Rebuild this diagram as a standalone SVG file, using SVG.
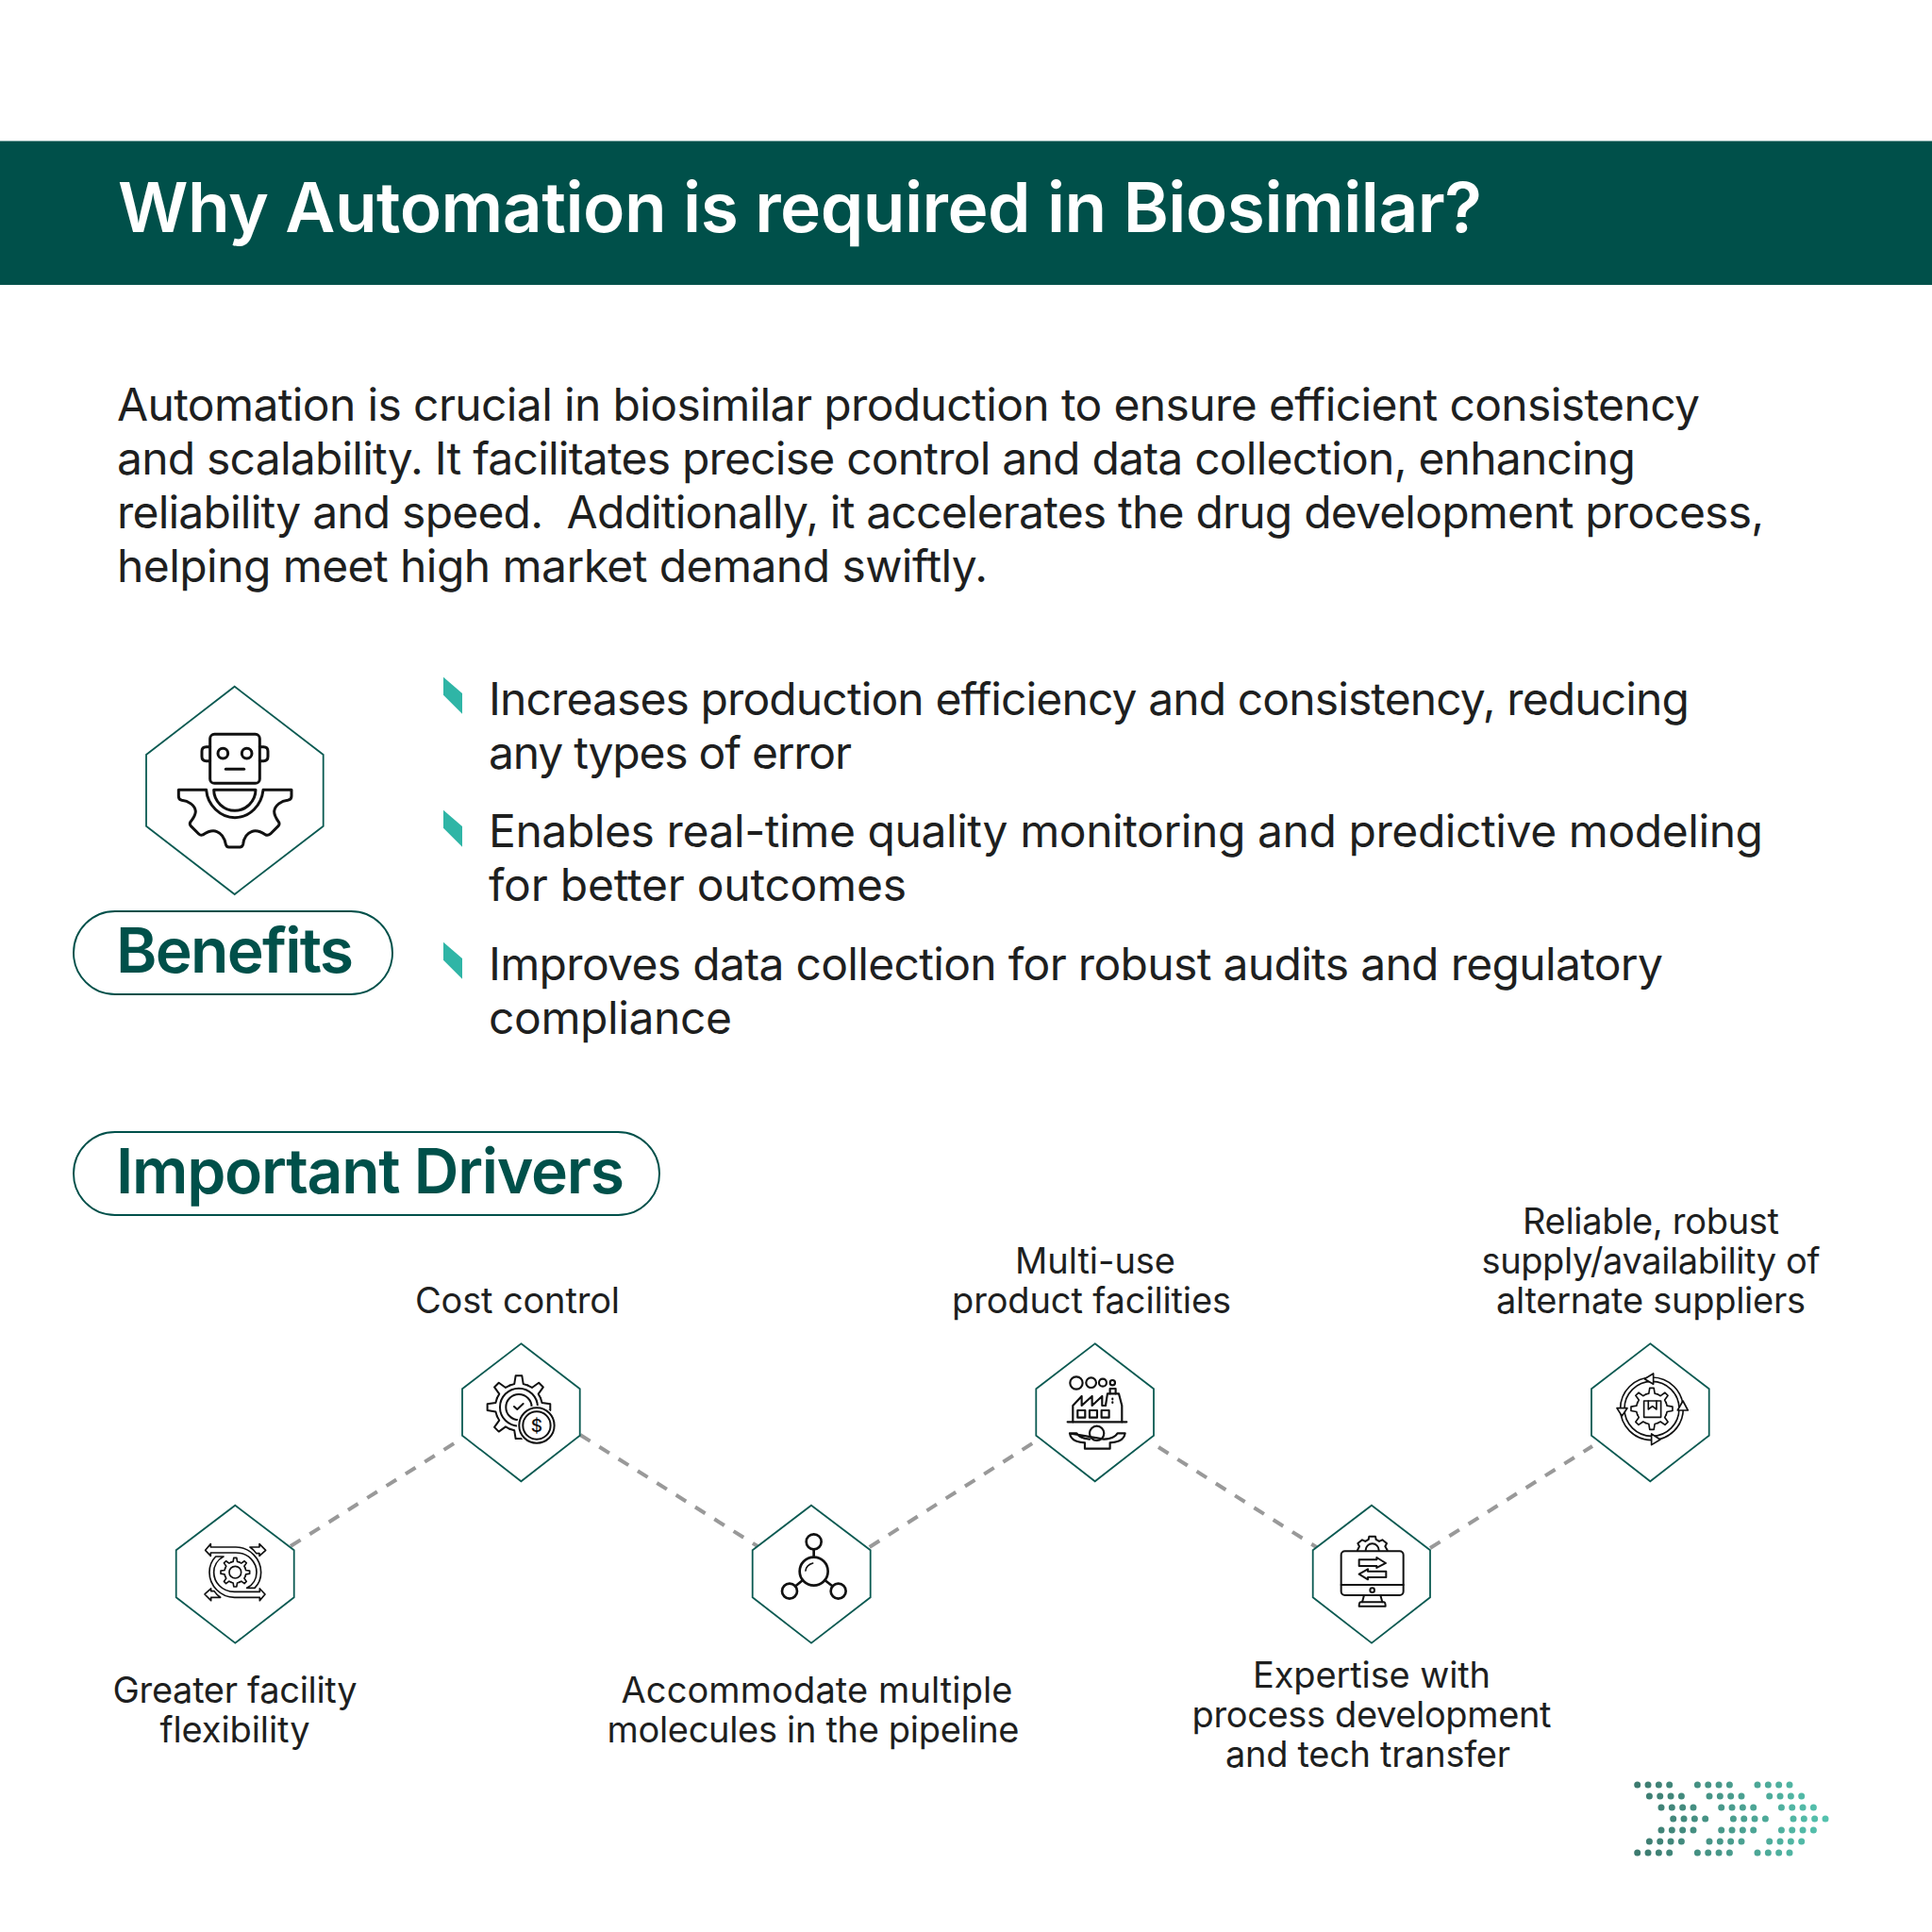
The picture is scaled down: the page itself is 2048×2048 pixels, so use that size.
<svg xmlns="http://www.w3.org/2000/svg" xmlns:xlink="http://www.w3.org/1999/xlink" width="2048" height="2048" viewBox="0 0 2048 2048">
<style>
text{font-family:"Inter","Liberation Sans",sans-serif;fill:#1e1f1f}
.title{font-size:73px;font-weight:600;fill:#fff}
.para{font-size:48px;font-weight:400}
.pill{fill:none;stroke:#00504a;stroke-width:1.9}
.pt{font-size:66px;font-weight:600;fill:#00504a}
.lab{font-size:38px;text-anchor:middle}
.hex{fill:#fff;stroke:#0b5a52;stroke-width:1.8}
.bul{fill:#2fb5a6}
.ic{fill:none;stroke:#111;stroke-linejoin:round;stroke-linecap:round}
.dash{stroke:#999;stroke-width:4;stroke-dasharray:12.5 11.5;fill:none}
</style>
<defs>
<g id="gear">
<path id="t" d="M-28.7-69.3L-14.3-73.6L-10-100H10L14.3-73.6L28.7-69.3"/>
<use xlink:href="#t" href="#t" transform="rotate(45)"/>
<use xlink:href="#t" href="#t" transform="rotate(90)"/>
<use xlink:href="#t" href="#t" transform="rotate(135)"/>
<use xlink:href="#t" href="#t" transform="rotate(180)"/>
<use xlink:href="#t" href="#t" transform="rotate(225)"/>
<use xlink:href="#t" href="#t" transform="rotate(270)"/>
<use xlink:href="#t" href="#t" transform="rotate(315)"/>
</g>
<polygon id="b" class="bul" points="470,717.7 490,735 490,756.7 470,736.7"/>
<linearGradient id="dg" gradientUnits="userSpaceOnUse" x1="1735" y1="0" x2="1940" y2="0">
<stop offset="0" stop-color="#3d7a6f"/><stop offset=".5" stop-color="#4a9d8e"/><stop offset="1" stop-color="#55c4b0"/>
</linearGradient>
</defs>
<rect width="2048" height="2048" fill="#fff"/>

<g id="header">
<rect x="0" y="149.5" width="2048" height="152.5" fill="#00504a"/>
<text class="title" x="125" y="245.5" textLength="1446" lengthAdjust="spacing">Why Automation is required in Biosimilar?</text>
</g>

<g id="intro">
<text class="para" x="124" y="445.5" textLength="1678" lengthAdjust="spacing">Automation is crucial in biosimilar production to ensure efficient consistency</text>
<text class="para" x="124" y="502.5" textLength="1610" lengthAdjust="spacing">and scalability. It facilitates precise control and data collection, enhancing</text>
<text class="para" x="124" y="559.5" textLength="1746" lengthAdjust="spacing" xml:space="preserve">reliability and speed.  Additionally, it accelerates the drug development process,</text>
<text class="para" x="124" y="616.5" textLength="923" lengthAdjust="spacing">helping meet high market demand swiftly.</text>
</g>

<g id="benefits-icon">
<polygon class="hex" points="248.7,727.7 342.7,800 342.7,875.7 248.7,948 155,875.7 155,800"/>
<g class="ic" stroke-width="9" transform="translate(130,700) scale(.3333)">
<rect x="278" y="235" width="158" height="156" rx="14"/>
<path d="M278,275H266Q252,275 252,289V306Q252,320 266,320H278M436,275H448Q462,275 462,289V306Q462,320 448,320H436"/>
<circle cx="319" cy="296" r="16"/><circle cx="395" cy="296" r="16"/>
<path d="M328,346H386"/>
<path d="M178,412H266C270,460 310,500 357,500C405,500 442,460 447,412H537V432Q537,443 525,445C505,447 485,460 482,480C482,495 490,505 497,515Q500,522 495,527L470,552Q463,558 455,555C440,545 425,538 410,545C390,552 385,570 383,585Q381,594 372,594H338Q330,594 328,585C325,570 318,552 300,545C285,538 270,545 255,555Q248,558 242,552L217,527Q212,522 215,515C222,505 232,495 232,480C230,460 208,447 188,445Q178,443 178,432Z"/>
<path d="M290,412H423C423,450 390,478 357,478C323,478 290,450 290,412Z"/>
</g>
</g>

<g id="benefits-pill">
<rect class="pill" x="78" y="966" width="338" height="88" rx="44"/>
<text class="pt" x="123" y="1031" textLength="252" lengthAdjust="spacing">Benefits</text>
</g>

<g id="benefits-list">
<use xlink:href="#b" href="#b"/>
<use xlink:href="#b" href="#b" y="141"/>
<use xlink:href="#b" href="#b" y="281"/>
<text class="para" x="518" y="757.5" textLength="1273" lengthAdjust="spacing">Increases production efficiency and consistency, reducing</text>
<text class="para" x="518" y="814.5" textLength="385" lengthAdjust="spacing">any types of error</text>
<text class="para" x="518" y="898" textLength="1351" lengthAdjust="spacing">Enables real-time quality monitoring and predictive modeling</text>
<text class="para" x="518" y="955" textLength="443" lengthAdjust="spacing">for better outcomes</text>
<text class="para" x="518" y="1038.5" textLength="1245" lengthAdjust="spacing">Improves data collection for robust audits and regulatory</text>
<text class="para" x="518" y="1095.5" textLength="258" lengthAdjust="spacing">compliance</text>
</g>

<g id="drivers-pill">
<rect class="pill" x="78" y="1200" width="621" height="88" rx="44"/>
<text class="pt" x="123" y="1264.5" textLength="539" lengthAdjust="spacing">Important Drivers</text>
</g>

<g id="connectors">
<path class="dash" d="M308,1639L483,1529"/>
<path class="dash" d="M615,1521L803,1639"/>
<path class="dash" d="M921.7,1640L1096,1529"/>
<path class="dash" d="M1228,1534L1397,1641"/>
<path class="dash" d="M1516,1641L1688,1533"/>
</g>

<g id="node-flexibility">
<polygon class="hex" points="249.3,1595.7 311.7,1643.3 311.7,1693.3 249.3,1741.7 186.7,1693.3 186.7,1643.3"/>
<g class="ic" stroke-width="5" transform="translate(170,1430) scale(.3333)">
<g id="fx"><path d="M160,630V620L143,640L160,658V648H240C282,648 306,680 306,710C306,730 295,750 275,760H300C312,748 320,730 320,710C320,668 285,630 240,630Z"/>
<path d="M285,630H315V620L335,640L315,658V650H305Q297,638 285,630Z"/></g>
<use xlink:href="#fx" href="#fx" transform="rotate(180 238 710)"/>
<use xlink:href="#gear" href="#gear" transform="translate(238,710) scale(.46)" stroke-width="10.8"/>
<circle cx="238" cy="710" r="19"/>
</g>
<text class="lab" x="249" y="1804.5" textLength="259" lengthAdjust="spacing">Greater facility</text>
<text class="lab" x="249" y="1846.5" textLength="159" lengthAdjust="spacing">flexibility</text>
</g>

<g id="node-cost">
<polygon class="hex" points="552.4,1424.3 614.7,1472.3 614.7,1521.7 552.4,1570.3 490,1521.7 490,1472.3"/>
<g class="ic" stroke-width="6" transform="translate(170,1430) scale(.3333)">
<use xlink:href="#gear" href="#gear" transform="translate(1140,185) scale(1)" stroke-width="6"/>
<circle cx="1140" cy="185" r="60"/>
<circle cx="1140" cy="185" r="41"/>
<path d="M1125,183L1135,192L1154,174"/>
<circle cx="1197" cy="243" r="63" fill="#fff" stroke="none"/>
<circle cx="1197" cy="243" r="56"/>
<circle cx="1197" cy="243" r="44"/>
</g>
<text x="569" y="1518" font-size="19" text-anchor="middle" style="font-weight:500;fill:#111">$</text>
<text class="lab" x="548.5" y="1392" textLength="217" lengthAdjust="spacing">Cost control</text>
</g>

<g id="node-molecules">
<polygon class="hex" points="860,1595.7 922.7,1643.3 922.7,1693.3 860,1741.7 797.7,1693.3 797.7,1643.3"/>
<g class="ic" stroke-width="8" transform="translate(780,1430) scale(.3333)">
<circle cx="248" cy="707" r="45"/>
<circle cx="248" cy="613" r="24"/><circle cx="171" cy="770" r="24"/><circle cx="326" cy="770" r="24"/>
<path d="M248,637V662M190,754L213,735M307,754L283,735"/>
<path stroke-width="5" d="M222,705Q224,687 245,681"/>
</g>
<text class="lab" x="866" y="1804.5" textLength="415" lengthAdjust="spacing">Accommodate multiple</text>
<text class="lab" x="862" y="1846.5" textLength="437" lengthAdjust="spacing">molecules in the pipeline</text>
</g>

<g id="node-facilities">
<polygon class="hex" points="1160.7,1424.3 1223,1472.3 1223,1521.7 1160.7,1570.3 1098.3,1521.7 1098.3,1472.3"/>
<g class="ic" stroke-width="6.5" transform="translate(780,1430) scale(.3333)">
<circle cx="1083" cy="108" r="20"/><circle cx="1130" cy="107" r="16"/><circle cx="1167" cy="107" r="12"/><circle cx="1198" cy="107" r="8"/>
<path d="M1055,232H1243"/>
<path d="M1072,232V180L1100,150V180L1133,150V180L1165,150V180H1176L1182,142H1218L1228,180V232"/>
<path d="M1190,142V126H1208V142"/>
<rect x="1087" y="195" width="24" height="23"/><rect x="1125" y="195" width="24" height="23"/><rect x="1163" y="195" width="24" height="23"/>
<path d="M1198,158V160M1198,169V171"/>
<circle cx="1148" cy="268" r="23"/>
<path d="M1062,268H1084Q1095,285 1125,287M1171,287Q1205,285 1214,268H1238Q1235,295 1190,298V317H1110V298Q1065,295 1062,268Z"/>
</g>
<text class="lab" x="1161" y="1350" textLength="170" lengthAdjust="spacing">Multi-use</text>
<text class="lab" x="1157" y="1392" textLength="296" lengthAdjust="spacing">product facilities</text>
</g>

<g id="node-expertise">
<polygon class="hex" points="1454,1595.7 1516,1643.3 1516,1693.3 1454,1741.7 1391.7,1693.3 1391.7,1643.3"/>
<g class="ic" stroke-width="6" transform="translate(1380,1430) scale(.3333)">
<rect x="125" y="643" width="198" height="140" rx="12"/>
<path d="M125,750H323"/>
<circle cx="224" cy="767" r="7"/>
<path d="M198,783L192,805M250,783L256,805"/>
<path d="M188,805H260Q266,805 266,818H182Q182,805 188,805Z"/>
<path d="M182,670H238V663L267,681L238,696V690H182Z"/>
<path d="M268,707H210V700L182,716L210,733V726H268Z"/>
<path d="M177,640L183,628L178,618L192,607L202,612L212,606L214,596H234L236,606L246,612L256,607L270,618L265,628L272,640"/>
<path d="M203,640A21,21 0 0 1 245,640"/>
</g>
<text class="lab" x="1454" y="1789" textLength="252" lengthAdjust="spacing">Expertise with</text>
<text class="lab" x="1454" y="1831" textLength="381" lengthAdjust="spacing">process development</text>
<text class="lab" x="1450" y="1873" textLength="302" lengthAdjust="spacing">and tech transfer</text>
</g>

<g id="node-suppliers">
<polygon class="hex" points="1749.3,1424.3 1811.7,1472.3 1811.7,1521.7 1749.3,1570.3 1687,1521.7 1687,1472.3"/>
<g class="ic" stroke-width="5" transform="translate(1380,1430) scale(.3333)">
<circle cx="1113" cy="190" r="100"/>
<circle cx="1113" cy="190" r="87"/>
<polygon fill="#fff" points="1090,95 1118,78 1118,112"/>
<polygon fill="#fff" points="1212,165 1228,195 1195,195"/>
<polygon fill="#fff" points="1140,288 1112,270 1112,305"/>
<polygon fill="#fff" points="1018,213 1002,188 1035,188"/>
<use xlink:href="#gear" href="#gear" transform="translate(1113,190) scale(.66)" stroke-width="7.5"/>
<rect x="1088" y="165" width="54" height="52"/>
<path d="M1102,165V192L1115,182L1128,192V165"/>
</g>
<text class="lab" x="1750" y="1308" textLength="272" lengthAdjust="spacing">Reliable, robust</text>
<text class="lab" x="1750" y="1350" textLength="359" lengthAdjust="spacing">supply/availability of</text>
<text class="lab" x="1750" y="1392" textLength="328" lengthAdjust="spacing">alternate suppliers</text>
</g>

<g id="logo-dots">
<path fill="none" stroke="url(#dg)" stroke-width="7" stroke-linecap="round" stroke-dasharray="0 11.33" d="M1735.7 1892h34.1M1799.4 1892h34.1M1863 1892h34.1M1748.4 1904h34.1M1812 1904h34.1M1875.7 1904h34.1M1761 1916h34.1M1824.7 1916h34.1M1888.4 1916h34.1M1773.7 1928h34.1M1837.4 1928h34.1M1901 1928h34.1M1761 1940h34.1M1824.7 1940h34.1M1888.4 1940h34.1M1748.4 1952h34.1M1812 1952h34.1M1875.7 1952h34.1M1735.7 1964h34.1M1799.4 1964h34.1M1863 1964h34.1"/>
</g>
</svg>
